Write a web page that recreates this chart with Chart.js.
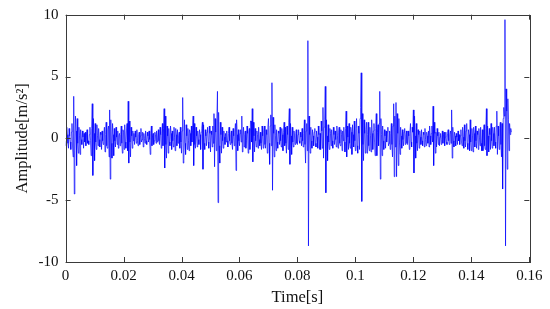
<!DOCTYPE html>
<html>
<head>
<meta charset="utf-8">
<script src="https://cdn.jsdelivr.net/npm/chart.js@4/dist/chart.umd.min.js"></script>
<style>
  html, body { margin: 0; padding: 0; background: #fff; }
  #wrap { width: 550px; height: 309px; }
</style>
</head>
<body>
<div id="wrap"><canvas id="c" width="550" height="309"></canvas></div>
<script>
// sample spacing of the recording, seconds
var sampleStep = 0.0002;

// acceleration samples, m/s^2 (40 per row)
var amplitude = [
	-0.6, -0.2, 0.9, 0.3, -0.4, -0.8, 0.8, 0.2, -0.3, -0.9, 0.5, 1.2, -0.7, -1.5, 3.4, -4.5, -1.0, 1.8, 0.6, -2.2,
	1.6, -0.4, -1.2, 0.9, 0.2, -1.3, 0.7, -0.1, -0.5, 0.6, 0.1, -0.8, 0.4, -0.3, 0.5, -0.6, 0.2, 0.7, -0.4, -0.2,
	-0.5, 0.3, 0.9, -0.2, -1.4, 0.8, 2.8, -3.0, 1.6, 0.4, -1.8, 1.2, -0.3, -0.9, 1.1, 0.2, -0.6, 0.8, -0.1, -0.7,
	0.5, 0.3, -0.9, 0.6, -0.2, -0.5, 0.4, 0.9, -1.1, 0.3, 1.3, -0.6, -0.8, 0.7, 1.0, -1.5, 2.3, -3.3, 1.5, -0.4,
	-1.6, 1.2, 0.3, -1.4, 0.8, -0.2, -0.7, 0.9, 0.1, -0.5, 0.6, -0.8, 0.2, 0.4, -0.6, 0.3, 1.0, -0.4, -1.2, 0.7,
	0.5, -0.9, 1.1, -0.3, -0.8, 0.6, 1.2, -1.0, 3.0, -2.0, 1.4, -0.3, -1.5, 0.9, 0.2, -0.8, 0.6, -0.2, 0.4, -0.5,
	0.6, 0.1, -0.4, 0.7, -0.2, -0.6, 0.3, 0.5, -0.5, 0.2, 0.8, -0.3, -0.1, 0.5, -0.7, 0.4, 0.0, -0.4, 0.6, -0.2,
	-0.5, 0.5, 0.2, -0.3, 0.6, -0.1, -1.3, 0.4, 1.0, -0.6, 0.2, 0.4, -0.5, -0.2, 0.5, 0.3, -0.4, 0.6, -0.3, 0.1,
	0.7, -0.2, -0.5, 0.9, 0.3, -0.8, 0.4, 1.2, -0.6, 0.8, 2.4, -2.4, 1.8, -0.5, -1.6, 1.0, 0.2, -1.2, 0.8, -0.3,
	-0.6, 1.0, 0.4, -0.9, 0.6, -0.2, -0.7, 0.9, 0.1, -1.0, 0.8, 0.3, -0.6, 0.7, -0.4, 0.2, 0.5, -0.8, 0.9, -0.3,
	-1.2, 0.6, 3.3, -2.0, -1.8, 1.5, -0.4, -1.3, 1.1, 0.2, -0.9, 0.8, -0.2, -1.0, 0.7, 0.4, -0.6, 1.0, -0.3, 0.6,
	1.8, -2.2, 1.2, -0.5, -0.8, 0.9, 0.2, -0.7, 0.6, -0.1, -0.5, 0.7, 0.3, -0.9, 0.5, 0.8, 1.3, -2.5, 1.1, -0.4,
	-0.9, 0.7, 0.2, -0.6, 0.5, 0.9, -0.3, -0.8, 1.0, 0.4, -1.1, 0.6, 0.3, -0.7, 1.0, -0.4, 2.0, -2.3, 1.6, 0.5,
	-1.0, 1.6, 3.8, -5.2, 2.1, -0.6, -2.0, 1.3, 0.3, -1.2, 0.9, -0.2, -0.8, 0.6, 0.1, -0.5, 0.4, -0.3, 0.6, -0.2,
	-0.7, 0.4, 0.9, -0.2, -0.5, 0.3, 0.6, -0.4, -0.9, 0.8, 0.2, -0.6, 0.5, 1.2, -2.6, 1.5, 0.3, -1.0, 0.7, -0.2,
	-0.6, 0.4, 0.7, -0.3, 1.8, -1.1, 0.2, 0.9, -0.7, 0.3, 0.6, -0.8, -0.2, 1.0, 0.4, -1.2, 0.5, 0.8, -0.9, 1.4,
	1.4, -0.3, 2.4, -1.9, 1.3, 0.2, -1.1, 0.8, -0.2, -0.7, 0.6, 0.3, -0.8, 0.9, -0.1, -0.6, 0.5, -0.4, -0.9, 1.0,
	0.2, -0.8, 0.6, 1.0, -0.5, -0.8, 0.7, 0.3, -1.2, 0.9, 1.6, -0.4, -2.1, 1.0, 1.9, -0.6, 4.5, -4.2, 1.7, 0.4,
	-1.5, 1.1, 0.2, -1.0, 0.7, -0.3, -0.8, 0.6, 0.4, -0.5, 0.9, -0.2, -0.7, 0.8, 0.3, -1.0, 0.5, 1.3, -0.6, 0.9,
	-0.4, -1.2, 1.0, 0.3, -0.9, 1.3, 2.4, -2.1, 1.2, 0.2, -1.3, 0.9, -0.3, -0.7, 0.6, 0.2, -0.5, 0.4, 0.7, -0.4,
	-0.5, 0.3, 0.7, -0.2, -0.4, 0.5, 0.1, -0.6, 0.8, -0.2, -0.7, 0.4, 1.5, -0.5, -2.0, 0.6, 1.2, -1.0, 7.9, -8.7,
	1.8, 0.3, -1.2, 0.9, -0.2, -0.8, 0.7, 0.2, -0.6, 0.5, 0.8, -0.4, -0.7, 0.6, 0.1, -0.8, 1.0, 0.3, -0.9, 0.4,
	-0.9, 1.4, 0.6, -0.8, 2.5, -1.6, 0.9, 1.5, 4.2, -4.4, 1.5, 0.2, -1.8, 1.1, -0.3, -0.9, 0.8, 0.4, -0.6, 0.7,
	-0.2, -0.8, 0.9, 0.3, -0.5, 0.6, -0.1, -0.7, 1.0, 0.2, -0.8, 0.5, 0.9, -0.4, -0.6, 0.7, 0.3, -1.0, 0.6, -0.2,
	0.9, -0.3, -1.1, 0.8, 2.2, -1.5, 1.0, 0.1, -0.9, 1.2, -0.4, -0.8, 0.9, 0.5, -1.3, 1.1, 0.3, -0.7, 1.4, -0.2,
	-1.0, 0.8, 1.6, -0.6, -1.2, 1.0, 0.4, -0.9, 1.6, 2.5, 5.3, -5.1, 2.0, -0.5, -1.8, 1.5, 0.4, -1.2, 0.7, 1.3,
	-1.2, 0.3, 1.3, -0.6, -1.0, 0.9, 0.2, -1.1, 1.5, 0.4, -0.9, 0.6, 1.2, -0.3, -1.4, 0.8, 2.0, -1.4, 0.5, 1.1,
	-0.6, 1.2, 3.8, -3.3, 1.6, 0.3, -1.4, 1.0, -0.2, -0.9, 0.7, 0.2, -0.8, 0.6, -0.3, 0.5, 0.9, -0.6, -0.4, 0.6,
	-0.9, 0.4, 1.2, -0.5, -1.5, 1.0, 2.8, -3.1, 1.8, -0.7, 2.9, -3.1, 2.0, 0.4, -2.2, 1.6, -0.3, -1.3, 0.9, 0.2,
	-0.8, 0.7, -0.1, -0.6, 0.5, 0.8, -0.5, 0.3, 0.6, -0.4, -0.5, 0.6, 0.2, -0.9, 0.4, 1.2, -0.3, -0.7, 0.9, 0.5,
	2.3, -2.8, 1.8, 0.2, -1.6, 1.2, -0.4, -1.0, 0.7, 0.3, -0.8, 0.6, 0.1, -0.5, 0.7, -0.2, -0.6, 0.5, 0.3, -0.7,
	0.8, -0.1, -0.6, 0.5, 0.2, -0.4, 0.6, -0.7, 1.0, 0.2, -0.5, 0.4, 1.0, -0.3, 2.6, -2.2, 1.3, 0.4, -1.2, 0.5,
	-0.7, 0.8, 0.2, -0.5, 0.5, -0.6, 0.1, 0.4, -0.5, -0.1, 0.6, -0.4, 0.3, 0.5, -0.6, 0.1, 0.5, -0.3, -0.5, 0.4,
	0.7, -0.2, -0.5, 0.3, 0.6, -0.4, 2.3, -1.6, 0.9, -0.2, -0.7, 0.5, 0.2, -0.6, 0.4, 0.1, -0.5, 0.6, -0.2, 0.3,
	-0.5, 0.2, 0.7, -0.3, -0.6, 0.9, 0.1, -0.8, 1.1, -0.2, -0.7, 0.6, 1.2, -0.4, -0.9, 0.7, 0.3, -1.0, 1.5, -0.3,
	-1.0, 0.8, 0.2, -1.1, 0.9, 0.4, -0.7, 1.0, -0.2, -0.8, 0.6, 0.3, -0.9, 0.8, 0.1, -0.6, 0.9, -0.4, -1.0, 0.7,
	-1.0, 0.5, 1.1, -0.6, -0.9, 0.8, 2.4, -1.4, 1.0, 0.2, -1.1, 0.8, 0.3, -0.9, 1.2, -0.2, -0.8, 0.9, 0.4, -0.6,
	0.9, -0.3, -0.8, 1.0, 2.2, -1.3, 1.0, 0.2, -0.9, 0.8, 1.3, -0.5, -1.5, 1.2, -4.1, 1.6, 2.5, 1.8, 9.6, -8.7,
	4.0, 2.2, -2.5, 3.2, 1.5, -1.0, 1.2, 0.3, 0.8, 0.5
];

// axis ticks
var timeTicks = [0, 0.02, 0.04, 0.06, 0.08, 0.1, 0.12, 0.14, 0.16];
var amplitudeTicks = [-10, -5, 0, 5, 10];

var serif = 'Liberation Serif';

var points = amplitude.map(function (a, i) {
	return { x: i * sampleStep, y: a };
});

// box around the plot, tick marks pointing inward on all four sides
var framePlugin = {
	id: 'frame',
	afterDraw: function (chart) {
		var ctx = chart.ctx,
			a = chart.chartArea,
			x = chart.scales.x,
			y = chart.scales.y,
			len = 5;
		ctx.save();
		ctx.strokeStyle = '#3a3a3a';
		ctx.lineWidth = 1;
		ctx.strokeRect(Math.round(a.left) + 0.5, Math.round(a.top) + 0.5,
			Math.round(a.right - a.left), Math.round(a.bottom - a.top));
		ctx.beginPath();
		timeTicks.forEach(function (t) {
			var px = Math.round(x.getPixelForValue(t)) + 0.5;
			ctx.moveTo(px, a.bottom); ctx.lineTo(px, a.bottom - len);
			ctx.moveTo(px, a.top); ctx.lineTo(px, a.top + len);
		});
		amplitudeTicks.forEach(function (v) {
			var py = Math.round(y.getPixelForValue(v)) + 0.5;
			ctx.moveTo(a.left, py); ctx.lineTo(a.left + len, py);
			ctx.moveTo(a.right, py); ctx.lineTo(a.right - len, py);
		});
		ctx.stroke();
		ctx.restore();
	}
};

new Chart(document.getElementById('c'), {
	type: 'line',
	data: {
		datasets: [{
			data: points,
			borderColor: 'rgb(0,0,255)',
			borderWidth: 0.7,
			pointRadius: 0,
			tension: 0,
			fill: false
		}]
	},
	options: {
		responsive: false,
		animation: false,
		events: [],
		layout: { padding: { left: 0, right: 20.7, top: 14.7, bottom: 0 } },
		plugins: { legend: { display: false }, tooltip: { enabled: false } },
		scales: {
			x: {
				type: 'linear',
				min: 0,
				max: 0.16,
				afterBuildTicks: function (scale) {
					scale.ticks = timeTicks.map(function (v) { return { value: v }; });
				},
				afterFit: function (scale) {
					scale.height = 47;
					scale.paddingLeft = 0;
					scale.paddingRight = 0;
				},
				grid: { display: false, drawTicks: false },
				border: { display: false },
				ticks: {
					padding: 5,
					maxRotation: 0,
					color: '#111',
					font: { family: serif, size: 15 },
					callback: function (v) { return String(+v.toFixed(2)); }
				},
				title: {
					display: true,
					text: 'Time[s]',
					color: '#111',
					font: { family: serif, size: 16.5 },
					padding: { top: 0, bottom: 1 }
				}
			},
			y: {
				type: 'linear',
				min: -10,
				max: 10,
				afterBuildTicks: function (scale) {
					scale.ticks = amplitudeTicks.map(function (v) { return { value: v }; });
				},
				afterFit: function (scale) {
					scale.width = 65.6;
					scale.paddingTop = 0;
					scale.paddingBottom = 0;
				},
				grid: { display: false, drawTicks: false },
				border: { display: false },
				ticks: {
					padding: 7,
					color: '#111',
					font: { family: serif, size: 15 }
				},
				title: {
					display: true,
					text: 'Amplitude[m/s²]',
					color: '#111',
					font: { family: serif, size: 16.5 },
					padding: { top: 12.5, bottom: 0 }
				}
			}
		}
	},
	plugins: [framePlugin]
});
</script>
</body>
</html>
